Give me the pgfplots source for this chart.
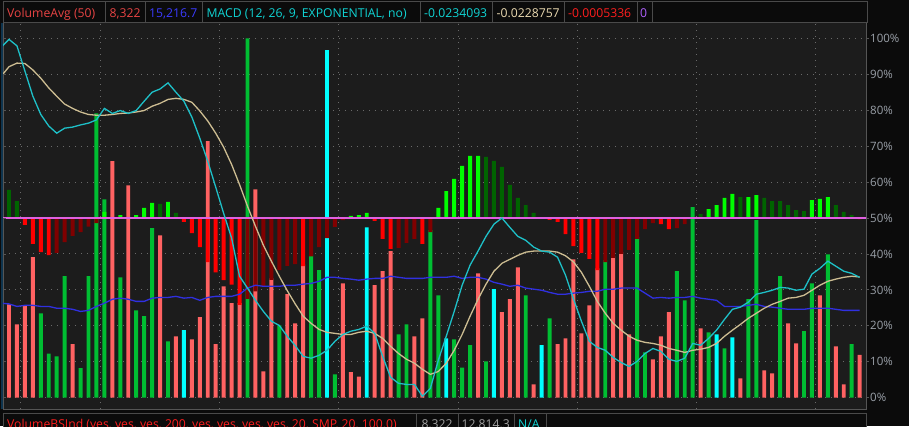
\documentclass[border=0pt]{standalone}
\usepackage{pgfplots}
\usepackage{pgfplotstable}
\pgfplotsset{compat=1.18}
\usepackage{fontspec}
\setmainfont{Open Sans}

\definecolor{bgdark}{HTML}{0B0B0B}
\definecolor{plotbg}{HTML}{1C1C1C}
\definecolor{frame}{HTML}{555555}
\definecolor{gridc}{HTML}{6A6A6A}
\definecolor{cellc}{HTML}{4A4A4A}
\definecolor{leftedge}{HTML}{0E344E}
\definecolor{volS}{HTML}{FF6262}
\definecolor{volG}{HTML}{00BE32}
\definecolor{volC}{HTML}{00FFFF}
\definecolor{hBG}{HTML}{00FF00}
\definecolor{hDG}{HTML}{006400}
\definecolor{hBR}{HTML}{FF0000}
\definecolor{hDR}{HTML}{800000}
\definecolor{lnCyan}{HTML}{1EC0C8}
\definecolor{lnTan}{HTML}{CDBD92}
\definecolor{lnBlue}{HTML}{3030E0}
\definecolor{zeroLn}{HTML}{E060E0}
\definecolor{tickc}{HTML}{9AA0A8}
\definecolor{txtRed}{HTML}{E84444}
\definecolor{txtBlue}{HTML}{3B3BFF}
\definecolor{txtCyan}{HTML}{10D4D4}
\definecolor{txtTan}{HTML}{EAD9B0}
\definecolor{txtRed2}{HTML}{FF1E1E}
\definecolor{txtMag}{HTML}{B060FF}
\definecolor{txtGray}{HTML}{A0A0A0}

% MACD line, signal line, volume average (all in % of the panel)
\pgfplotstableread{
i    cyan  tan   blue
-1   97.5  89.4  26.3
0    99.7  92.1  26.1
1    97.9  93.1  25.4
2    90.9  93.0  25.7
3    83.9  91.2  25.7
4    78.8  88.9  25.4
5    75.6  86.2  25.4
6    73.6  83.9  24.9
7    75.0  81.7  24.9
8    75.3  80.5  24.6
9    75.9  79.5  24.0
10   76.4  78.8  24.3
11   77.3  78.6  25.4
12   80.5  78.6  26.3
13   79.1  78.8  27.4
14   79.9  79.1  27.7
15   79.1  79.2  27.4
16   79.9  79.5  26.8
17   82.5  79.9  26.8
18   85.0  81.1  27.7
19   85.9  81.9  27.9
20   87.6  83.0  27.9
21   85.0  83.3  28.2
22   82.5  83.0  27.7
23   78.1  82.2  27.9
24   72.2  79.8  27.1
25   65.8  77.0  27.9
26   58.6  73.6  28.2
27   51.3  69.7  28.2
28   44.4  64.9  28.2
29   33.8  59.3  28.8
30   30.5  53.3  30.5
31   27.1  47.7  31.3
32   24.0  42.4  31.0
33   21.3  38.0  31.0
34   20.1  33.8  31.0
35   17.1  29.8  31.3
36   14.5  26.1  31.3
37   11.5  22.7  31.6
38   11.0  20.7  31.8
39   11.8  19.0  32.4
40   13.2  18.2  33.5
41   15.7  17.9  33.5
42   17.6  17.6  33.2
43   18.5  17.6  33.0
44   19.0  18.2  32.7
45   19.9  18.5  33.0
46   17.9  17.9  33.2
47   11.5  16.5  33.2
48   5.7   14.3  33.8
49   4.0   12.3  33.5
50   3.7   10.7  33.2
51   3.7   9.6   33.2
52   0.4   7.9   33.2
53   2.6   6.5   33.5
54   10.4  7.3   33.5
55   17.1  9.6   33.5
56   24.0  13.2  33.8
57   31.3  17.6  33.2
58   36.9  22.7  33.5
59   40.8  27.4  33.5
60   44.9  31.6  33.0
61   48.3  35.2  32.1
62   50.0  37.4  31.6
63   47.4  38.5  31.0
64   44.9  39.6  31.3
65   43.8  40.5  30.5
66   41.9  40.8  30.2
67   40.8  40.8  29.9
68   40.5  40.8  29.3
69   39.1  40.5  28.8
70   34.1  39.5  28.8
71   27.5  37.8  29.1
72   21.3  34.9  29.3
73   15.7  31.0  29.6
74   14.0  26.8  29.6
75   13.2  23.5  30.2
76   11.2  20.7  30.2
77   9.8   18.8  30.5
78   8.7   17.1  30.5
79   10.1  16.0  30.5
80   12.3  15.4  29.1
81   13.7  15.1  27.7
82   12.9  14.6  27.9
83   10.7  13.7  27.7
84   10.1  13.2  27.9
85   11.0  12.6  27.9
86   15.1  13.2  28.2
87   14.6  13.5  27.7
88   16.5  14.0  27.4
89   18.8  15.1  27.1
90   21.8  17.1  25.4
91   24.6  18.8  25.4
92   25.2  20.4  25.4
93   26.6  22.1  25.7
94   28.8  23.5  26.0
95   29.3  24.9  25.4
96   29.9  26.0  25.2
97   30.7  26.8  24.9
98   30.5  27.7  24.6
99   29.9  27.9  24.6
100  30.2  28.5  24.6
101  34.4  29.9  24.9
102  36.0  31.3  24.9
103  38.0  32.4  24.9
104  36.6  33.0  24.6
105  35.2  33.5  24.3
106  34.6  33.8  24.3
107  33.5  33.6  24.3
}\lines

\begin{document}
\begin{tikzpicture}[x=1pt,y=1pt]
\useasboundingbox (0,0) rectangle (909,426);
\clip (0,0) rectangle (909,426);
\fill[bgdark] (0,0) rectangle (909,426);

% ---- volume panel (bars from 0%)
\begin{axis}[
    at={(3pt,17pt)}, anchor=south west,
    width=863pt, height=386pt, scale only axis,
    xmin=-0.755, xmax=107.8,
    ymin=-3.14, ymax=104.26,
    axis background/.style={fill=plotbg},
    axis line style={draw=frame, line width=1pt},
    xtick={1.5,11.5,26.5,41.5,56.5,71.5,86.5,101.5},
    xticklabels={}, xtick style={draw=none},
    ytick={0,10,...,100},
    ytick pos=right, yticklabel pos=right,
    tick align=outside, major tick length=3pt,
    ytick style={draw=frame, line width=0.8pt},
    /pgf/number format/assume math mode=true,
    yticklabel={\pgfmathprintnumber{\tick}\%},
    yticklabel style={font=\fontsize{11.5}{13}\selectfont, text=tickc, inner sep=1pt},
    xmajorgrids, ymajorgrids,
    grid style={draw=gridc, line width=1pt, dash pattern=on 1pt off 5pt},
    ]
    % salmon bars
    \addplot[ybar, bar width=0.5, bar shift=0pt, fill=volS, draw=none] coordinates {
    (0,26.0) (1,20.4) (2,25.7) (3,39.1) (8,14.9) (13,65.8) (15,59.1) (19,45.2)
    (21,17.1) (23,16.2) (24,22.4) (25,71.4) (26,14.9) (27,31.0) (28,26.3) (29,26.3)
    (31,58.0) (32,7.3) (33,33.2) (35,28.8) (36,20.7) (37,37.1) (42,31.8) (43,7.1)
    (44,5.9) (46,31.3) (47,35.2) (48,40.8) (51,17.1) (52,22.1) (59,34.6) (62,23.8)
    (63,27.4) (64,36.3) (66,3.7) (69,14.9) (70,16.5) (71,38.5) (72,17.9) (73,25.7)
    (74,36.0) (76,39.4) (77,40.5) (78,17.6) (81,10.7) (82,17.1) (83,23.8) (87,19.3)
    (92,5.4) (95,7.6) (96,6.8) (98,20.7) (99,15.1) (102,28.5) (104,14.3) (105,3.7)
    (107,11.9)};
    % green bars
    \addplot[ybar, bar width=0.5, bar shift=0pt, fill=volG, draw=none] coordinates {
    (4,23.5) (5,12.3) (6,11.5) (7,33.8) (9,8.2) (10,33.8) (11,79.1) (12,55.2)
    (14,33.5) (16,24.3) (17,22.7) (18,47.2) (20,15.7) (30,100) (34,20.1) (38,39.6)
    (39,35.5) (41,6.5) (49,17.6) (50,20.4) (53,46.6) (54,28.5) (56,16.2) (57,8.4)
    (58,14.6) (60,10.1) (65,28.5) (68,22.1) (75,38.3) (79,44.7) (80,12.6) (84,35.2)
    (85,27.1) (86,53.0) (88,18.2) (90,13.7) (93,27.4) (94,49.4) (97,33.8) (100,18.5)
    (101,31.8) (103,39.9) (106,14.9)};
    % cyan bars
    \addplot[ybar, bar width=0.5, bar shift=0pt, fill=volC, draw=none] coordinates {
    (22,18.8) (40,96.7) (45,47.4) (55,16.5) (61,30.2) (67,14.6) (89,17.6) (91,16.8)};
\end{axis}

% ---- MACD histogram (values relative to the 50% line)
\begin{axis}[
    at={(3pt,17pt)}, anchor=south west,
    width=863pt, height=386pt, scale only axis,
    xmin=-0.755, xmax=107.8,
    ymin=-53.14, ymax=54.26,
    hide axis,
    ]
    \addplot[ybar, bar width=0.5, bar shift=0pt, fill=hBG, draw=none] coordinates {
    (12,1.7) (14,0.8) (16,0.8) (17,2.8) (18,4.2) (20,4.5) (43,0.6) (44,0.8) (45,1.4)
    (54,2.8) (55,7.5) (56,10.9) (57,14.5) (58,17.3) (59,17.3) (88,2.5) (89,3.6)
    (90,5.6) (91,6.7) (93,5.8) (94,6.4) (101,5.0) (102,5.3) (103,5.8)};
    \addplot[ybar, bar width=0.5, bar shift=0pt, fill=hDG, draw=none] coordinates {
    (0,7.8) (1,4.7) (19,3.9) (21,1.4) (60,17.0) (61,15.9) (62,14.2) (63,9.2) (64,5.6)
    (65,3.6) (66,1.4) (87,1.1) (92,5.8) (95,5.6) (96,4.7) (97,4.7) (98,3.6) (99,2.2)
    (100,1.9) (104,3.6) (105,1.7) (106,0.8)};
    \addplot[ybar, bar width=0.5, bar shift=0pt, fill=hBR, draw=none] coordinates {
    (2,-1.9) (3,-7.2) (4,-9.5) (5,-10.3) (22,-1.1) (23,-4.2) (24,-8.1) (25,-12.3)
    (26,-15.1) (27,-17.3) (28,-18.5) (29,-24.2) (37,-13.4) (46,-0.8) (47,-5.8)
    (48,-8.6) (52,-7.2) (68,-0.5) (69,-1.1) (70,-4.5) (71,-7.8) (72,-9.7) (73,-11.4)
    (74,-14.5) (82,-1.7) (83,-3.1) (107,-0.3)};
    \addplot[ybar, bar width=0.5, bar shift=0pt, fill=hDR, draw=none] coordinates {
    (6,-9.7) (7,-6.7) (8,-5.0) (9,-3.9) (10,-2.4) (11,-1.4) (30,-22.5) (31,-20.4)
    (32,-19.0) (33,-17.2) (34,-14.5) (35,-13.3) (36,-12.8) (38,-10.7) (39,-8.1)
    (40,-5.6) (41,-2.5) (42,-0.6) (49,-8.3) (50,-6.9) (51,-5.8) (53,-3.9) (75,-12.3)
    (76,-11.1) (77,-10.0) (78,-8.9) (79,-5.8) (80,-3.1) (81,-1.4) (84,-2.8) (85,-1.7)};
\end{axis}

% ---- lines on top
\begin{axis}[
    at={(3pt,17pt)}, anchor=south west,
    width=863pt, height=386pt, scale only axis,
    xmin=-0.755, xmax=107.8,
    ymin=-3.14, ymax=104.26,
    hide axis,
    ]
    \addplot[lnBlue, line width=1.3pt] table[x=i, y=blue] {\lines};
    \addplot[zeroLn, line width=1.2pt] coordinates {(-1,50) (108,50)};
    \addplot[lnTan, line width=1.3pt] table[x=i, y=tan] {\lines};
    \addplot[lnCyan, line width=1.3pt] table[x=i, y=cyan] {\lines};
    \pgfplotsinvokeforeach{1.5,11.5,26.5,41.5,56.5,71.5,86.5,101.5}{
        \draw[frame, line width=1pt] (axis cs:#1,104.26) -- ++(0,-5pt);
    }
\end{axis}

% short ticks on the left edge at each 10%
\foreach \v in {0,...,10}
    \draw[frame, line width=0.8pt] (3,{17+(10*\v+3.14)*3.594}) -- ++(3,0);

% left edge of the panel
\draw[leftedge, line width=1.4pt] (2,17) -- (2,403);

% ---- header strip
\fill[bgdark] (3,403.3) rectangle (867,425);
\draw[cellc, line width=0.8pt] (3,403.3) rectangle (867,425);
\foreach \xx in {105.7,145.3,202.3,420,492,564,637,652}
    \draw[cellc, line width=0.8pt] (\xx,403.3) -- (\xx,425);
\begin{scope}[every node/.style={anchor=base west, inner sep=0pt, font=\fontsize{12.2}{14}\selectfont}]
\node[text=txtRed]   at (7,408.7)     {VolumeAvg (50)};
\node[text=txtRed]   at (109.5,408.7) {8,322};
\node[text=txtBlue]  at (149,408.7)   {15,216.7};
\node[text=txtCyan]  at (206.5,408.7) {MACD (12, 26, 9, EXPONENTIAL, no)};
\node[text=txtCyan]  at (424,408.7)   {-0.0234093};
\node[text=txtTan]   at (496.5,408.7) {-0.0228757};
\node[text=txtRed2]  at (568,408.7)   {-0.0005336};
\node[text=txtMag]   at (640,408.7)   {0};
\end{scope}

% ---- footer strip (cut by the lower edge)
\fill[bgdark] (3,-6) rectangle (866,13);
\draw[cellc, line width=0.8pt] (3,-6) rectangle (866,13);
\foreach \xx in {416.7,458.3,514,546}
    \draw[cellc, line width=0.8pt] (\xx,-6) -- (\xx,13);
\begin{scope}[every node/.style={anchor=base west, inner sep=0pt, font=\fontsize{12.2}{14}\selectfont}]
\node[text=txtRed2]  at (7,-2)     {VolumeBSInd (yes, yes, yes, 200, yes, yes, yes, yes, 20, SMP, 20, 100.0)};
\node[text=txtGray]  at (421.5,-2) {8,322};
\node[text=txtGray]  at (461.5,-2) {12,814.3};
\node[text=txtCyan]  at (518,-2)   {N/A};
\end{scope}
\end{tikzpicture}
\end{document}
